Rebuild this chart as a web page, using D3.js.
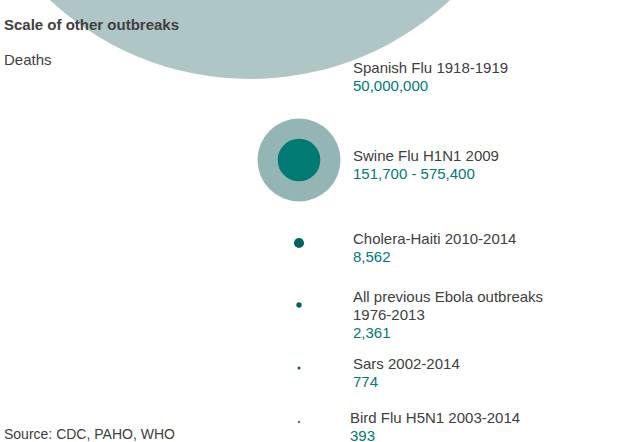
<!DOCTYPE html>
<html><head><meta charset="utf-8">
<script src="https://cdn.jsdelivr.net/npm/d3@7"></script>
<style>body{margin:0;background:#fff}text{font-family:"Liberation Sans",Arial,sans-serif}</style>
</head><body><svg id="c" width="624" height="442"></svg>
<script>
var names = [["Swine Flu H1N1 2009"], ["Cholera-Haiti 2010-2014"], ["All previous Ebola outbreaks", "1976-2013"], ["Sars 2002-2014"], ["Bird Flu H5N1 2003-2014"]];
var lows = [151700, 8562, 2361, 774, 393];
var highs = [575400, 8562, 2361, 774, 393];
var labels = ["151,700 - 575,400", "8,562", "2,361", "774", "393"];
var rowY = [160, 243, 305, 368, 422];
var spanish = 50000000;

var svg = d3.select("#c");
var r = d3.scaleSqrt().domain([0, 575400]).range([0, 41.5]);
var rBig = d3.scaleSqrt().domain([0, spanish]).range([0, 293]);

svg.append("circle").attr("cx", 250).attr("cy", 79 - rBig(spanish))
    .attr("r", rBig(spanish)).attr("fill", "#afc6c6");

svg.append("text").attr("x", 4).attr("y", 30).attr("font-size", 15)
    .attr("font-weight", "bold").attr("fill", "#404040").text("Scale of other outbreaks");
svg.append("text").attr("x", 4).attr("y", 65).attr("font-size", 15)
    .attr("fill", "#404040").text("Deaths");
svg.append("text").attr("x", 353).attr("y", 73).attr("font-size", 15)
    .attr("fill", "#404040").text("Spanish Flu 1918-1919");
svg.append("text").attr("x", 353).attr("y", 91).attr("font-size", 15)
    .attr("fill", "#007a73").text("50,000,000");

names.forEach(function (n, i) {
    var cy = rowY[i];
    if (highs[i] !== lows[i]) {
        svg.append("circle").attr("cx", 299).attr("cy", cy).attr("r", r(highs[i])).attr("fill", "#93b5b3");
    }
    svg.append("circle").attr("cx", 299).attr("cy", cy)
        .attr("r", Math.max(r(lows[i]), 1.1)).attr("fill", i === 0 ? "#007a73" : "#00655f");
    var lx = i === 4 ? 350 : 353,
        ty = cy + 1 - (n.length - 1) * 4;
    n.forEach(function (s, j) {
        svg.append("text").attr("x", lx).attr("y", ty + j * 18).attr("font-size", 15)
            .attr("fill", "#404040").text(s);
    });
    svg.append("text").attr("x", lx).attr("y", ty + n.length * 18).attr("font-size", 15)
        .attr("fill", "#007a73").text(labels[i]);
});

svg.append("text").attr("x", 4).attr("y", 439).attr("font-size", 14)
    .attr("fill", "#404040").text("Source: CDC, PAHO, WHO");
</script></body></html>
